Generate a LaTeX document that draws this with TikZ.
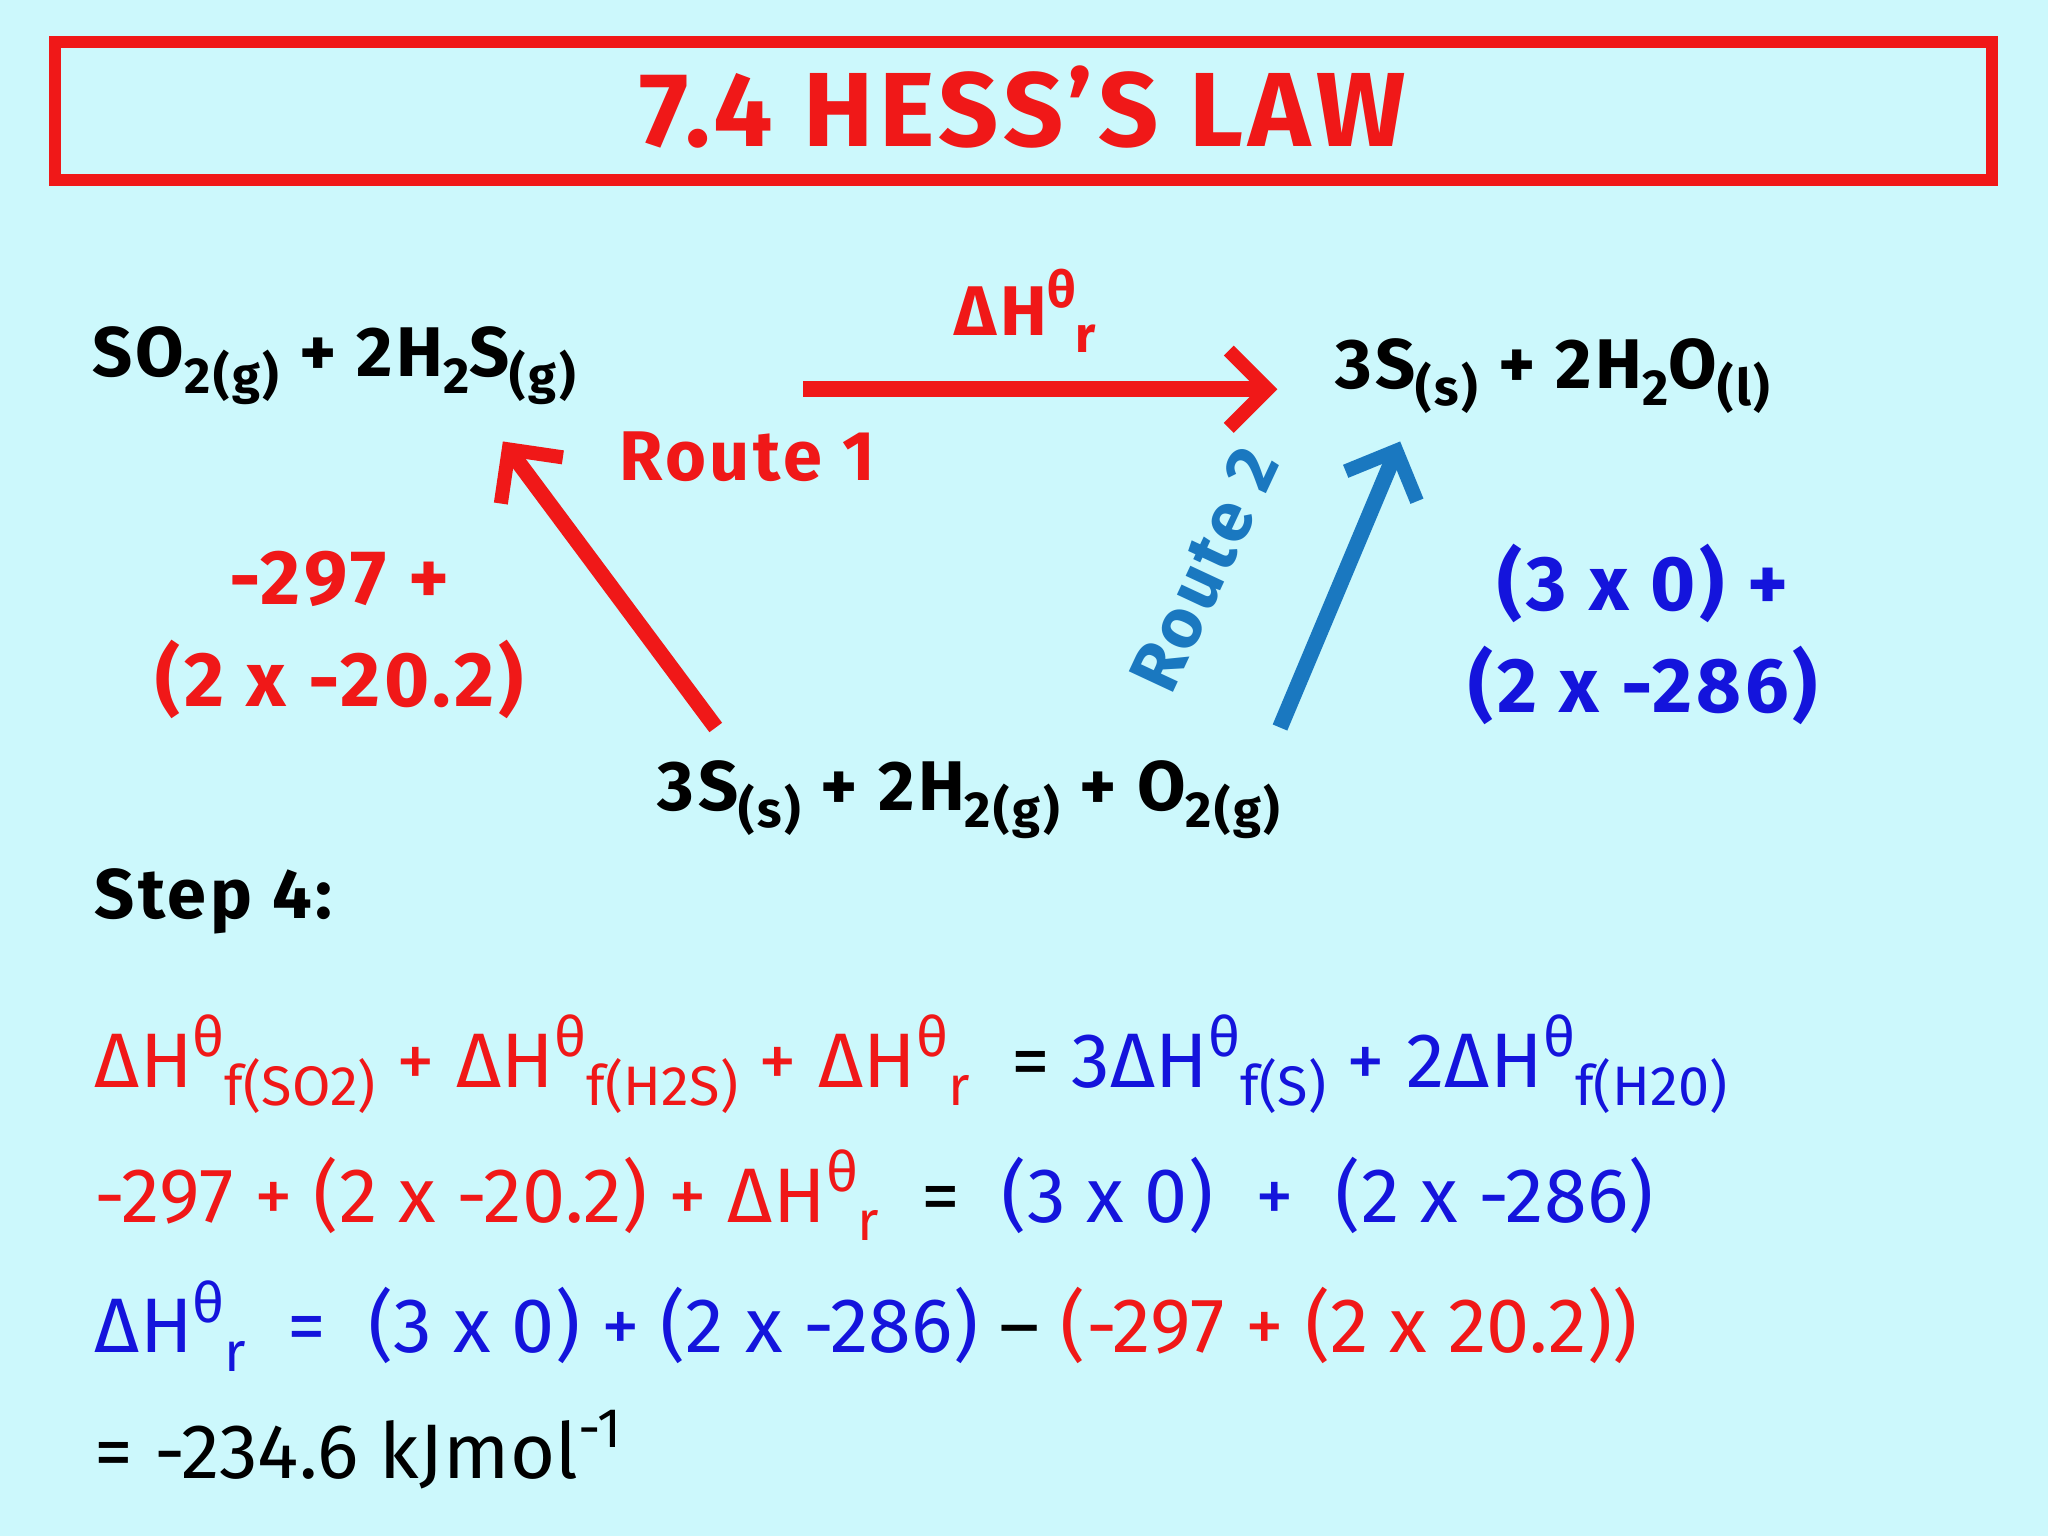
\documentclass[tikz,border=0pt]{standalone}
\usepackage{fontspec}
\setmainfont{Fira Sans}[LetterSpace=5]
\newfontfamily\eqfont{Fira Sans}[LetterSpace=0.5]
\usepackage{graphicx}
\definecolor{bg}{HTML}{CCF8FC}
\definecolor{rd}{HTML}{F01818}
\definecolor{bl}{HTML}{1414DC}
\definecolor{rb}{HTML}{1A78C0}
\newcommand\dn[1]{\raisebox{-0.45ex}{\scalebox{0.72}{#1}}}
\newcommand\up[1]{\raisebox{0.75ex}{\scalebox{0.72}{#1}}}
\newcommand\dH{ΔH\up{θ}}
\tikzset{chem/.style={font=\fontsize{20}{22}\selectfont\bfseries,inner sep=0pt},
 eq/.style={font=\eqfont\fontsize{22}{25}\selectfont,inner sep=0pt,anchor=west},
 arr/.style={line width=4.5pt,-{Straight Barb[length=11pt,width=22pt,line width=4pt]}}}
\usetikzlibrary{arrows.meta}
\begin{document}
\begin{tikzpicture}[x=0.013061cm,y=-0.013061cm]
\fill[bg] (0,0) rectangle (1568,1176);
\useasboundingbox (0,0) rectangle (1568,1176);
\node[draw=rd,line width=3.5pt,minimum width=1483*0.013061cm,minimum height=106*0.013061cm,inner sep=0pt] (tb) at (783.5,85) {};
\node[text=rd,font=\fontsize{30}{34}\selectfont\bfseries] (title) at (783,82) {7.4 HESS’S LAW};
\node[chem,anchor=west] (A) at (70,280) {SO\dn{2(g)} + 2H\dn{2}S\dn{(g)}};
\node[chem,anchor=west] (B) at (1022,288) {3S\dn{(s)} + 2H\dn{2}O\dn{(l)}};
\node[chem] (C) at (742,612) {3S\dn{(s)} + 2H\dn{2(g)} + O\dn{2(g)}};
\node[chem,text=rd] (dhr) at (785,238) {\dH\dn{r}};
\node[chem,text=rd] (r1) at (572,350) {Route 1};
\node[chem,text=rb,rotate=65] (r2) at (922,436) {Route 2};
\node[chem,text=rd,align=center,font=\fontsize{22}{29}\selectfont\bfseries] (L) at (260,486) {-297 +\\(2 x -20.2)};
\node[chem,text=bl,align=center,font=\fontsize{22}{29}\selectfont\bfseries] (R) at (1258,486) {(3 x 0) +\\(2 x -286)};
\coordinate (t1) at (615,298); \coordinate (t2) at (978,298);
\coordinate (l1) at (548,557); \coordinate (l2) at (385,338);
\coordinate (b1) at (980,557); \coordinate (b2) at (1072,338);
\draw[arr,rd] (t1) -- (t2);
\draw[arr,rd] (l1) -- (l2);
\draw[arr,rb] (b1) -- (b2);
\node[chem,anchor=west] (s4) at (72,690) {Step 4:};
\node[eq] (e1) at (72,815) {\textcolor{rd}{\dH\dn{f(SO2)} + \dH\dn{f(H2S)} + \dH\dn{r}}\ \ = \textcolor{bl}{3\dH\dn{f(S)} + 2\dH\dn{f(H20)}}};
\node[eq] (e2) at (72,915) {\textcolor{rd}{-297 + (2 x -20.2) + \dH\dn{r}}\ \ =\ \ \textcolor{bl}{(3 x 0)\ \ +\ \ (2 x -286)}};
\node[eq] (e3) at (72,1015) {\textcolor{bl}{\dH\dn{r}\ \ =\ \ (3 x 0) + (2 x -286)} – \textcolor{rd}{(-297 + (2 x 20.2))}};
\node[eq] (e4) at (72,1110) {= -234.6 kJmol\up{-1}};
\end{tikzpicture}
\end{document}
